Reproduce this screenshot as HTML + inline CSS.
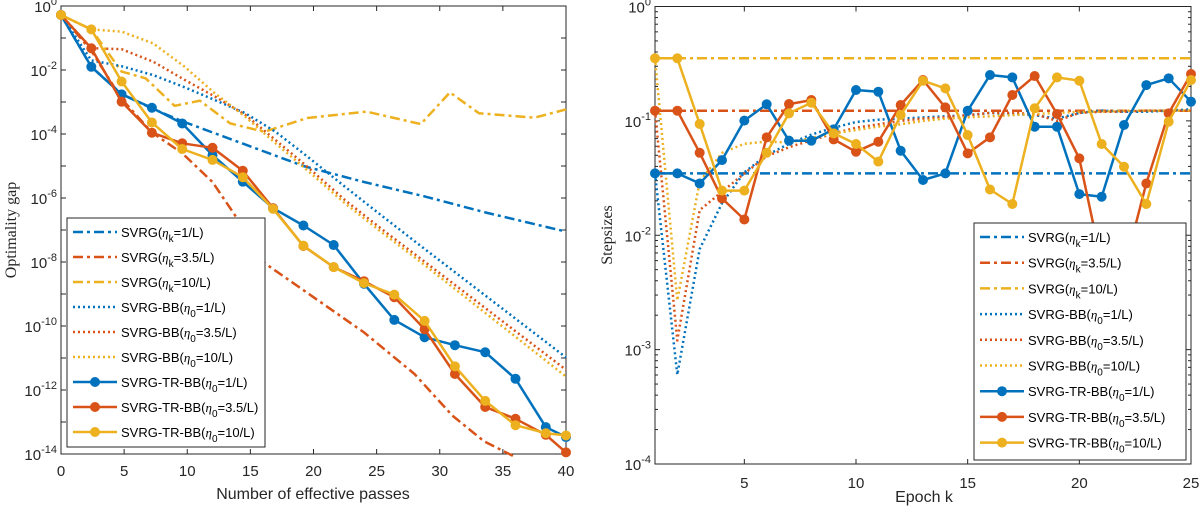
<!DOCTYPE html>
<html><head><meta charset="utf-8"><style>
html,body{margin:0;padding:0;background:#fff;}
svg{display:block;font-family:"Liberation Sans",sans-serif;}
</style></head><body>
<svg id="fig" width="1200" height="513" viewBox="0 0 1200 513" xmlns="http://www.w3.org/2000/svg"></svg>
<script>
// ---------- LEFT CHART DATA (log10 optimality gap) ----------
const passesTR = [0,2.4,4.8,7.2,9.6,12,14.4,16.8,19.2,21.6,24,26.4,28.8,31.2,33.6,36,38.4,40];
const trBB1 = [-0.28,-1.9,-2.76,-3.18,-3.67,-4.66,-5.49,-6.32,-6.86,-7.47,-8.68,-9.81,-10.35,-10.6,-10.82,-11.65,-13.16,-13.47];
const trBB35 = [-0.28,-1.32,-2.99,-3.96,-4.29,-4.43,-5.15,-6.32,-7.5,-8.16,-8.6,-9.1,-10.1,-11.5,-12.53,-12.9,-13.4,-13.95];
const trBB10 = [-0.28,-0.73,-2.36,-3.64,-4.47,-4.81,-5.35,-6.34,-7.49,-8.16,-8.66,-9.02,-9.84,-11.26,-12.34,-13.1,-13.35,-13.42];
const svrg1X = [0,2.4,4.8,7.2,9.6,14.4,19.2,24,28.8,33.6,40];
const svrg1Y = [-0.28,-1.9,-2.75,-3.2,-3.6,-4.3,-5.0,-5.5,-5.95,-6.45,-7.05];
const svrg35X = [0,2.4,4.8,7.2,9.6,12,14.4,16,20,24,28,31,33.5,36];
const svrg35Y = [-0.28,-1.4,-2.9,-3.95,-4.6,-5.5,-6.9,-8.0,-9.1,-10.2,-11.5,-12.8,-13.6,-14.1];
const svrg10X = [0,2.4,4.8,6.7,9,11,13.4,16.1,19.5,24.2,28.5,30.8,33.1,37.5,40];
const svrg10Y = [-0.28,-0.73,-2.05,-2.26,-3.12,-2.96,-3.67,-3.93,-3.5,-3.3,-3.69,-2.7,-3.35,-3.49,-3.23];
const bbX = [0,2.4,4.8,7.3,9.8,12.2,14.6,17,19.5,22.5,25.5,28.5,40];
const bb1Y = [-0.28,-1.7,-1.88,-2.16,-2.54,-2.94,-3.35,-3.93,-4.7,-5.65,-6.58,-7.5,-10.98];
const bb35Y = [-0.28,-1.32,-1.35,-1.74,-2.31,-2.83,-3.4,-4.19,-5.02,-6.07,-7.0,-7.9,-11.37];
const bb10Y = [-0.28,-0.73,-0.8,-1.17,-1.9,-2.73,-3.46,-4.29,-5.13,-6.17,-7.1,-8.0,-11.58];
const leftXTicks = [0,5,10,15,20,25,30,35,40];
const leftYTicks = [0,-2,-4,-6,-8,-10,-12,-14];

// ---------- RIGHT CHART DATA (log10 stepsize) ----------
const epochs = [1,2,3,4,5,6,7,8,9,10,11,12,13,14,15,16,17,18,19,20,21,22,23,24,25];
const stepTR1 = [-1.459,-1.459,-1.547,-1.343,-0.998,-0.855,-1.173,-1.173,-1.074,-0.73,-0.745,-1.261,-1.517,-1.459,-0.911,-0.599,-0.62,-1.051,-1.051,-1.64,-1.663,-1.036,-0.687,-0.628,-0.832];
const stepTR35 = [-0.911,-0.911,-1.279,-1.678,-1.862,-1.144,-0.853,-0.818,-1.162,-1.27,-1.182,-0.861,-0.643,-0.882,-1.284,-1.144,-0.774,-0.608,-0.94,-1.328,-2.25,-2.3,-1.547,-0.934,-0.59];
const stepTR10 = [-0.453,-0.453,-1.027,-1.61,-1.61,-1.279,-0.934,-0.841,-1.109,-1.202,-1.356,-0.949,-0.649,-0.716,-1.124,-1.6,-1.727,-0.89,-0.62,-0.649,-1.202,-1.401,-1.727,-1.007,-0.643];
const stepSVRG = [-1.459,-0.911,-0.453];
const stepBB1 = [-1.459,-3.22,-2.12,-1.72,-1.45,-1.3,-1.2,-1.12,-1.06,-1.01,-0.99,-0.98,-0.97,-0.96,-0.95,-0.93,-0.94,-0.95,-0.98,-0.93,-0.91,-0.92,-0.92,-0.91,-0.9];
const stepBB35 = [-0.911,-2.92,-1.78,-1.62,-1.46,-1.31,-1.23,-1.17,-1.11,-1.06,-1.03,-1.0,-0.98,-0.97,-0.95,-0.93,-0.93,-0.94,-1.0,-0.93,-0.92,-0.92,-0.91,-0.91,-0.91];
const stepBB10 = [-0.453,-2.57,-1.53,-1.28,-1.2,-1.18,-1.19,-1.15,-1.11,-1.08,-1.05,-1.03,-1.0,-0.98,-0.97,-0.96,-0.95,-0.94,-0.93,-0.92,-0.92,-0.91,-0.91,-0.91,-0.91];
const rightXTicks = [5,10,15,20,25];
const rightYTicks = [0,-1,-2,-3,-4];

const legendLabels = [["SVRG(","η","k","=1/L)"],["SVRG(","η","k","=3.5/L)"],["SVRG(","η","k","=10/L)"],
 ["SVRG-BB(","η","0","=1/L)"],["SVRG-BB(","η","0","=3.5/L)"],["SVRG-BB(","η","0","=10/L)"],
 ["SVRG-TR-BB(","η","0","=1/L)"],["SVRG-TR-BB(","η","0","=3.5/L)"],["SVRG-TR-BB(","η","0","=10/L)"]];

const C = ["#0072BD","#D95319","#EDB120"];
const NS = "http://www.w3.org/2000/svg";
const svg = document.getElementById('fig');
function mk(tag, attrs, parent){ const e=document.createElementNS(NS,tag); for(const k in attrs) e.setAttribute(k,attrs[k]); (parent||svg).appendChild(e); return e; }

const L = {x0:61,x1:566,y0:6,y1:454};
const lx = v => L.x0 + (v/40)*(L.x1-L.x0);
const ly = v => L.y0 + (-v/14)*(L.y1-L.y0);
const R = {x0:655,x1:1191,y0:6.5,y1:464};
const rx = v => R.x0 + ((v-1)/24)*(R.x1-R.x0);
const ry = v => R.y0 + (-v/4)*(R.y1-R.y0);

const DASHDOT = "10,4,3,4", DOT = "2,3";
function line(xs, ys, fx, fy, color, dash, name, w){
  const p = xs.map((x,i)=>fx(x).toFixed(1)+","+fy(ys[i]).toFixed(1)).join(" ");
  const el = mk('polyline',{points:p,fill:'none',stroke:color,'stroke-width':w||2.5,'stroke-dasharray':dash||'none','stroke-linejoin':'round'});
  
  
  return el;
}
function markers(xs, ys, fx, fy, color, name){
  const g = mk('g',{});
  
  
  xs.forEach((x,i)=>{ const c=mk('circle',{cx:fx(x),cy:fy(ys[i]),r:5,fill:color},g);
    
     });
}
function frame(A, name){
  const r = mk('rect',{x:A.x0,y:A.y0,width:A.x1-A.x0,height:A.y1-A.y0,fill:'none',stroke:'#262626','stroke-width':1});
  
  
}
function supLabel(x,y,exp,name){
  const t = mk('text',{x:x,y:y,'text-anchor':'end','font-size':15,fill:'#262626'});
  
  
  t.textContent = '10';
  const s = mk('tspan',{dy:-7,'font-size':11},t); s.textContent = exp;
}

// ---- Left chart ----
frame(L,'left-plot-area');
leftXTicks.forEach(v=>{
  mk('line',{x1:lx(v),x2:lx(v),y1:L.y1,y2:L.y1-5,stroke:'#262626'});
  mk('line',{x1:lx(v),x2:lx(v),y1:L.y0,y2:L.y0+5,stroke:'#262626'});
  const t = mk('text',{x:lx(v),y:L.y1+22,'text-anchor':'middle','font-size':15,fill:'#262626'});
  
  
  t.textContent = v;
});
for(let d=0; d>=-14; d--){
  mk('line',{x1:L.x0,x2:L.x0+5,y1:ly(d),y2:ly(d),stroke:'#262626'});
  mk('line',{x1:L.x1,x2:L.x1-5,y1:ly(d),y2:ly(d),stroke:'#262626'});
}
leftYTicks.forEach(v=>supLabel(L.x0-4, ly(v)+6, String(v), 'left-y-tick-label'));

line(svrg1X, svrg1Y, lx, ly, C[0], DASHDOT, 'svrg-1-line');
line(svrg35X, svrg35Y, lx, ly, C[1], DASHDOT, 'svrg-3.5-line');
line(svrg10X, svrg10Y, lx, ly, C[2], DASHDOT, 'svrg-10-line');
line(bbX, bb1Y, lx, ly, C[0], DOT, 'svrg-bb-1-line');
line(bbX, bb35Y, lx, ly, C[1], DOT, 'svrg-bb-3.5-line');
line(bbX, bb10Y, lx, ly, C[2], DOT, 'svrg-bb-10-line');
line(passesTR, trBB1, lx, ly, C[0], null, 'svrg-tr-bb-1-line');
markers(passesTR, trBB1, lx, ly, C[0], 'svrg-tr-bb-1-markers');
line(passesTR, trBB35, lx, ly, C[1], null, 'svrg-tr-bb-3.5-line');
markers(passesTR, trBB35, lx, ly, C[1], 'svrg-tr-bb-3.5-markers');
line(passesTR, trBB10, lx, ly, C[2], null, 'svrg-tr-bb-10-line');
markers(passesTR, trBB10, lx, ly, C[2], 'svrg-tr-bb-10-markers');

// ---- Right chart ----
frame(R,'right-plot-area');
rightXTicks.forEach(v=>{
  mk('line',{x1:rx(v),x2:rx(v),y1:R.y1,y2:R.y1-5,stroke:'#262626'});
  mk('line',{x1:rx(v),x2:rx(v),y1:R.y0,y2:R.y0+5,stroke:'#262626'});
  const t = mk('text',{x:rx(v),y:R.y1+24,'text-anchor':'middle','font-size':15,fill:'#262626'});
  
  
  t.textContent = v;
});
for(let d=-4; d<0; d++){
  for(let m=1;m<10;m++){
    const yy = ry(d+Math.log10(m)); const len = m===1?5:3;
    mk('line',{x1:R.x0,x2:R.x0+len,y1:yy,y2:yy,stroke:'#262626'});
    mk('line',{x1:R.x1,x2:R.x1-len,y1:yy,y2:yy,stroke:'#262626'});
  }
}
rightYTicks.forEach(v=>supLabel(R.x0-4, ry(v)+6, String(v), 'right-y-tick-label'));

const k3 = [1,25];
stepSVRG.forEach((v,i)=>line(k3,[v,v],rx,ry,C[i],DASHDOT,'svrg-step-line'));
line(epochs, stepBB1, rx, ry, C[0], DOT, 'svrg-bb-1-step');
line(epochs, stepBB35, rx, ry, C[1], DOT, 'svrg-bb-3.5-step');
line(epochs, stepBB10, rx, ry, C[2], DOT, 'svrg-bb-10-step');
line(epochs, stepTR1, rx, ry, C[0], null, 'svrg-tr-bb-1-step');
markers(epochs, stepTR1, rx, ry, C[0], 'svrg-tr-bb-1-step-markers');
line(epochs, stepTR35, rx, ry, C[1], null, 'svrg-tr-bb-3.5-step');
markers(epochs, stepTR35, rx, ry, C[1], 'svrg-tr-bb-3.5-step-markers');
line(epochs, stepTR10, rx, ry, C[2], null, 'svrg-tr-bb-10-step');
markers(epochs, stepTR10, rx, ry, C[2], 'svrg-tr-bb-10-step-markers');

// ---- Legends ----
function legend(bx,by,bw,bh,y0,dy,name){
  const g = mk('g',{});
  
  
  mk('rect',{x:bx,y:by,width:bw,height:bh,fill:'#fff',stroke:'#262626','stroke-width':1},g);
  legendLabels.forEach((lab,i)=>{
    const y = y0 + i*dy; const c = C[i%3];
    const dash = i<3?DASHDOT:(i<6?DOT:'none');
    mk('line',{x1:bx+6,x2:bx+50,y1:y,y2:y,stroke:c,'stroke-width':2.5,'stroke-dasharray':dash},g);
    if(i>=6) mk('circle',{cx:bx+28,cy:y,r:5,fill:c},g);
    const t = mk('text',{x:bx+54,y:y+5,'font-size':13,fill:'#000'},g);
    
    
    const a = mk('tspan',{},t); a.textContent = lab[0];
    const b = mk('tspan',{'font-family':'Liberation Serif, serif','font-style':'italic'},t); b.textContent = lab[1];
    const s = mk('tspan',{dy:5,'font-size':10},t); s.textContent = lab[2];
    const d = mk('tspan',{dy:-5},t); d.textContent = lab[3];
  });
}
legend(67,218,198,229,232,25,'left-legend');
legend(974,223,212,237,237,25.7,'right-legend');

// ---- Axis titles ----
function txt(x,y,s,attrs,name){ const t=mk('text',Object.assign({x:x,y:y},attrs)); t.textContent=s;
  
   return t; }
txt(313,499,'Number of effective passes',{'text-anchor':'middle','font-size':16,fill:'#262626'},'left-x-axis-title');
txt(924,502,'Epoch k',{'text-anchor':'middle','font-size':16,fill:'#262626'},'right-x-axis-title');
txt(0,0,'Optimality gap',{'text-anchor':'middle','font-size':16,fill:'#262626','font-family':'Liberation Serif, serif',transform:'translate(16,230) rotate(-90)'},'left-y-axis-title');
txt(0,0,'Stepsizes',{'text-anchor':'middle','font-size':16,fill:'#262626','font-family':'Liberation Serif, serif',transform:'translate(612,235) rotate(-90)'},'right-y-axis-title');
</script>
</body></html>
